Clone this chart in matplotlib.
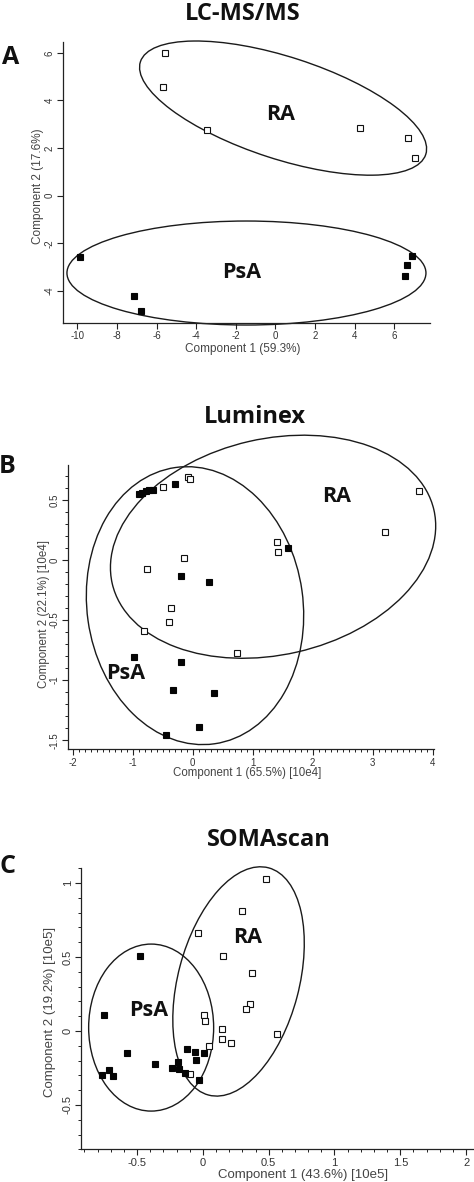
import matplotlib
matplotlib.use("Agg")
import matplotlib.pyplot as plt
from matplotlib.patches import Ellipse
from matplotlib.transforms import ScaledTranslation
from matplotlib.ticker import MultipleLocator, FuncFormatter

# ── Data ─────────────────────────────────────────────────────

# Panel A: LC-MS/MS
a_ra_x = [-5.56, -5.69, -3.47, 4.28, 6.72, 7.04]
a_ra_y = [6.00, 4.58, 2.76, 2.83, 2.42, 1.57]
a_psa_x = [-9.86, -7.15, -6.78, 6.90, 6.64, 6.55]
a_psa_y = [-2.57, -4.20, -4.86, -2.52, -2.91, -3.37]

# Panel B: Luminex
b_ra_x = [-0.07, -0.04, -0.49, 3.77, 3.20, 1.41, 1.43, -0.15, -0.76, -0.36, -0.39, -0.81, 0.74]
b_ra_y = [0.69, 0.67, 0.61, 0.57, 0.23, 0.15, 0.067, 0.014, -0.075, -0.40, -0.52, -0.59, -0.77]
b_psa_x = [-0.90, -0.85, -0.78, -0.72, -0.66, -0.29, 1.59, -0.20, 0.28, -0.98, -0.19, -0.32, 0.35, 0.10, -0.45]
b_psa_y = [0.545, 0.56, 0.575, 0.58, 0.58, 0.633, 0.097, -0.13, -0.18, -0.81, -0.85, -1.08, -1.11, -1.39, -1.46]

# Panel C: SOMAscan
c_ra_x = [0.48, 0.30, -0.036, 0.155, 0.37, 0.355, 0.33, 0.005, 0.015, 0.147, 0.56, 0.147, 0.213, 0.048, -0.097]
c_ra_y = [1.03, 0.81, 0.66, 0.51, 0.39, 0.18, 0.147, 0.106, 0.068, 0.012, -0.018, -0.056, -0.083, -0.104, -0.29]
c_psa_x = [-0.48, -0.753, -0.574, -0.365, -0.764, -0.713, -0.685, -0.117, -0.061, 0.010,
           -0.051, -0.186, -0.234, -0.178, -0.137, -0.026]
c_psa_y = [0.51, 0.11, -0.147, -0.22, -0.296, -0.264, -0.307, -0.122, -0.144, -0.149,
           -0.194, -0.210, -0.248, -0.255, -0.285, -0.33]

titles = ["LC-MS/MS", "Luminex", "SOMAscan"]
panel_letters = ["A", "B", "C"]
x_labels = ["Component 1 (59.3%)", "Component 1 (65.5%) [10e4]", "Component 1 (43.6%) [10e5]"]
y_labels = ["Component 2 (17.6%)", "Component 2 (22.1%) [10e4]", "Component 2 (19.2%) [10e5]"]

# group ellipses: centre in data units, size (px) and angle on screen
a_ellipses = [(0.39, 3.68, 300, 102, -18), (-1.46, -3.25, 359, 104, 0)]
b_ellipses = [(0.04, -0.38, 216, 279, 8), (1.34, 0.11, 330, 216, 12.9)]
c_ellipses = [(-0.393, 0.023, 125, 167, 0), (0.271, 0.335, 235, 121, 75.2)]

# group label anchors (data units, baseline)
a_group_labels = [("RA", 0.29, 3.18), ("PsA", -1.70, -3.47)]
b_group_labels = [("RA", 2.40, 0.48), ("PsA", -1.12, -0.99)]
c_group_labels = [("RA", 0.342, 0.597), ("PsA", -0.414, 0.10)]

W, H = 474, 1182
fig = plt.figure(figsize=(W / 100, H / 100), dpi=100)

BOLD = ["Open Sans", "DejaVu Sans"]
SANS = ["Liberation Sans", "DejaVu Sans"]

# plain hyphen minus, no trailing ".0"
tick_fmt = FuncFormatter(lambda v, p: f"{round(v, 6) + 0.0:g}")


def px_rect(left, top, right, bottom):
    return [left / W, 1 - bottom / H, (right - left) / W, (bottom - top) / H]


def draw_panel(ax, ra_x, ra_y, psa_x, psa_y, ellipses, group_labels,
               ms, tick_fs):
    ax.plot(ra_x, ra_y, 's', ms=ms, mfc='white', mec='#111111', mew=0.8, zorder=3)
    ax.plot(psa_x, psa_y, 's', ms=ms, mfc='#050505', mec='#050505', mew=0.8, zorder=4)

    for cx, cy, w, h, ang in ellipses:
        tr = fig.dpi_scale_trans + ScaledTranslation(cx, cy, ax.transData)
        e = Ellipse((0, 0), w / 100, h / 100, angle=ang, transform=tr,
                    fill=False, ec='#1a1a1a', lw=1.0, clip_on=False, zorder=2)
        ax.add_patch(e)

    for txt, x, y in group_labels:
        ax.text(x, y, txt, ha='center', va='baseline', fontsize=15.5,
                fontweight='bold', family=BOLD, color='#111111', zorder=5)

    for side in ['top', 'right']:
        ax.spines[side].set_visible(False)
    for side in ['left', 'bottom']:
        ax.spines[side].set_color('#222222')
        ax.spines[side].set_linewidth(0.9)

    ax.xaxis.set_major_formatter(tick_fmt)
    ax.yaxis.set_major_formatter(tick_fmt)
    ax.tick_params(which='major', direction='out', length=4, width=0.8,
                   color='#222222', labelsize=tick_fs, labelcolor='#333333', pad=2)
    ax.tick_params(which='minor', direction='out', length=2.2, width=0.7, color='#222222')
    ax.tick_params(axis='y', labelrotation=90)
    for lab in ax.get_yticklabels():
        lab.set_va('center')
        lab.set_family(SANS)
    for lab in ax.get_xticklabels():
        lab.set_family(SANS)


# ── Panel A ──────────────────────────────────────────────────
ax_a = fig.add_axes(px_rect(63.3, 41.7, 430, 323))
ax_a.set_xlim(-10.71, 7.81)
ax_a.set_ylim(-5.35, 6.47)
ax_a.xaxis.set_major_locator(MultipleLocator(2))
ax_a.yaxis.set_major_locator(MultipleLocator(2))
draw_panel(ax_a, a_ra_x, a_ra_y, a_psa_x, a_psa_y, a_ellipses, a_group_labels, 4.3, 7)

# ── Panel B ──────────────────────────────────────────────────
ax_b = fig.add_axes(px_rect(68.3, 465, 434, 749.3))
ax_b.set_xlim(-2.07, 4.02)
ax_b.set_ylim(-1.575, 0.79)
ax_b.xaxis.set_major_locator(MultipleLocator(1))
ax_b.xaxis.set_minor_locator(MultipleLocator(0.1))
ax_b.yaxis.set_major_locator(MultipleLocator(0.5))
ax_b.yaxis.set_minor_locator(MultipleLocator(0.1))
draw_panel(ax_b, b_ra_x, b_ra_y, b_psa_x, b_psa_y, b_ellipses, b_group_labels, 4.1, 7)

# ── Panel C ──────────────────────────────────────────────────
ax_c = fig.add_axes(px_rect(81, 868.3, 474, 1149.3))
ax_c.set_xlim(-0.926, 2.06)
ax_c.set_ylim(-0.80, 1.10)
ax_c.xaxis.set_major_locator(MultipleLocator(0.5))
ax_c.xaxis.set_minor_locator(MultipleLocator(0.1))
ax_c.yaxis.set_major_locator(MultipleLocator(0.5))
ax_c.yaxis.set_minor_locator(MultipleLocator(0.1))
draw_panel(ax_c, c_ra_x, c_ra_y, c_psa_x, c_psa_y, c_ellipses, c_group_labels, 4.8, 8)

# axis labels (positions in axes fraction)
label_pos = [((0.489, -0.0935), (-0.068, 0.488)),
             ((0.488, -0.085), (-0.066, 0.476)),
             ((0.564, -0.092), (-0.079, 0.49))]
label_sizes = [8.5, 8.3, 9.5]
for ax, xl, yl, (xp, yp), fs in zip([ax_a, ax_b, ax_c], x_labels, y_labels, label_pos, label_sizes):
    ax.set_xlabel(xl, fontsize=fs, color='#444444', family=SANS)
    ax.set_ylabel(yl, fontsize=fs, color='#444444', family=SANS)
    ax.xaxis.set_label_coords(*xp)
    ax.yaxis.set_label_coords(*yp)
    ax.xaxis.label.set_va('center')
    ax.yaxis.label.set_va('center')

# titles and panel letters (pixel baselines)
title_pos = [(242.7, 20), (255, 422.7), (269.3, 846)]
letter_pos = [(2, 64), (-1, 473.3), (-1, 873.3)]
for t, (tx, ty) in zip(titles, title_pos):
    fig.text(tx / W, 1 - ty / H, t, ha='center', va='baseline', fontsize=17,
             fontweight='bold', family=BOLD, color='#111111')
for l, (lx, ly) in zip(panel_letters, letter_pos):
    fig.text(lx / W, 1 - ly / H, l, ha='left', va='baseline', fontsize=18,
             fontweight='bold', family=BOLD, color='#111111')

fig.savefig("out.png", dpi=100, facecolor='white')
